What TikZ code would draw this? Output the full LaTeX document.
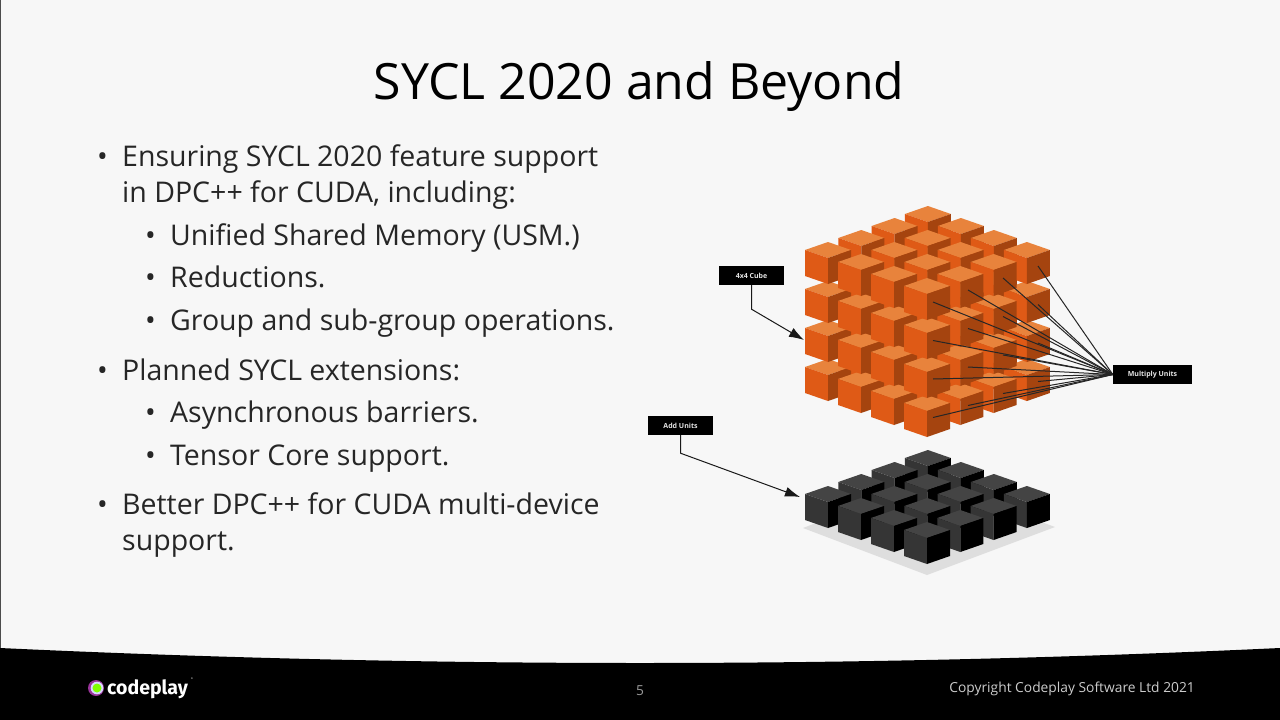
\documentclass[tikz,border=0pt]{standalone}
\usepackage{fontspec}
\setmainfont{Open Sans}
\newfontfamily\logofont{Fira Sans}
\usetikzlibrary{arrows.meta}
\definecolor{slidebg}{HTML}{F7F7F7}
\definecolor{orangetop}{HTML}{E8833C}
\definecolor{orangeleft}{HTML}{DF5A16}
\definecolor{orangeright}{HTML}{A5440F}
\definecolor{darktop}{HTML}{444444}
\definecolor{darkleft}{HTML}{353535}
\definecolor{darkright}{HTML}{000000}
\newcommand{\cubeblock}[5]{%
	\fill[#3] (#1,#2) -- ({#1+23},{#2+8}) -- (#1,{#2+16}) -- ({#1-23},{#2+8}) -- cycle;
	\fill[#4] ({#1-23},{#2+8}) -- (#1,{#2+16}) -- (#1,{#2+42}) -- ({#1-23},{#2+34}) -- cycle;
	\fill[#5] ({#1+23},{#2+8}) -- (#1,{#2+16}) -- (#1,{#2+42}) -- ({#1+23},{#2+34}) -- cycle;
}
\tikzset{
	titletext/.style={anchor=base,inner sep=0pt,text=black,font=\fontsize{50}{50}\selectfont},
	bodytext/.style={anchor=base west,inner sep=0pt,text=black!85,font=\fontsize{28.5}{28.5}\selectfont},
	unitlabel/.style={fill=black,text=white!90!black,inner sep=0pt,minimum height=19pt,font=\bfseries\fontsize{7}{7}\selectfont},
	footertext/.style={inner sep=0pt,text=black!20,font=\fontsize{13.8}{13.8}\selectfont},
	callout/.style={draw=black!90,line width=1pt,-{Latex[length=15pt,width=10pt]}},
	spoke/.style={draw=black!85,line width=1pt}
}
\begin{document}
\begin{tikzpicture}[x=1pt,y=-1pt]
	\useasboundingbox (0,0) rectangle (1280,720);
	\fill[slidebg] (0,0) rectangle (1280,720);
	\fill[black!70] (0,0) rectangle (1,650);
	\fill[black] (0,648) .. controls (427,668) and (853,668) .. (1280,648) -- (1280,720) -- (0,720) -- cycle;
	% title and bullets
	\node[titletext] (title) at (639,99) {SYCL 2020 and Beyond};
	\foreach \name/\x/\y/\txt in {
		a/122/166/Ensuring SYCL 2020 feature support,
		b/122/202/{in DPC++ for CUDA, including:},
		c/170/245/Unified Shared Memory (USM.),
		d/170/287/Reductions.,
		e/170/330/Group and sub-group operations.,
		f/122/380/Planned SYCL extensions:,
		g/170/422/Asynchronous barriers.,
		h/170/465/Tensor Core support.,
		i/122/514/Better DPC++ for CUDA multi-device,
		j/122/550/support.}
		\node[bodytext] (line\name) at (\x,\y) {\txt};
	\foreach \name/\x/\y in {a/97/166,c/145/245,d/145/287,e/145/330,f/97/380,g/145/422,h/145/465,i/97/514}
		\node[bodytext] (dot\name) at (\x,\y) {•};
	% shadow under the add units
	\fill[black!13] (803,528) -- (927,575) -- (1055,527) -- (927,480) -- cycle;
	% add units
	\foreach \a in {3,2,1,0}
		\foreach \b in {3,2,1,0}{
			\pgfmathsetmacro{\cx}{927-33*\a+33.3*\b}
			\pgfmathsetmacro{\cy}{522-12*(\a+\b)}
			\cubeblock{\cx}{\cy}{darktop}{darkleft}{darkright}
		}
	% multiply units, bottom layer first
	\foreach \j in {3,2,1,0}
		\foreach \a in {3,2,1,0}
			\foreach \b in {3,2,1,0}{
				\pgfmathsetmacro{\cx}{927-33*\a+33.3*\b}
				\pgfmathsetmacro{\cy}{278+39*\j-12*(\a+\b)}
				\cubeblock{\cx}{\cy}{orangetop}{orangeleft}{orangeright}
			}
	% labels
	\node[unitlabel,minimum width=65pt] (cubelabel) at (751.5,275.5) {4x4 Cube};
	\node[unitlabel,minimum width=65pt] (addlabel) at (680.5,425.5) {Add Units};
	\node[unitlabel,minimum width=79pt] (multlabel) at (1152.5,374.5) {Multiply Units};
	\coordinate (cubetip) at (804,340);
	\coordinate (addtip) at (800,497);
	\draw[callout] (cubelabel.south) -- ++(0,24) -- (cubetip);
	\draw[callout] (addlabel.south) -- ++(0,18) -- (addtip);
	% one spoke per right face
	\foreach \i in {0,1,2,3}
		\foreach \j in {0,1,2,3}{
			\coordinate (face\i\j) at ({933+35*\i},{302-12*\i+38.5*\j});
			\draw[spoke] (multlabel.west) -- (face\i\j);
		}
	% footer
	\fill[violet!80] (96,688) circle (8);
	\fill[white!85!blue] (97,688) circle (6.3);
	\fill[green!50!yellow] (97,688) circle (4.5);
	\node[inner sep=0pt,anchor=base west,text=white,font=\logofont\bfseries\fontsize{19.5}{19.5}\selectfont] (logo) at (107,694) {codeplay};
	\node[inner sep=0pt,text=white,font=\fontsize{5}{5}\selectfont] (logomark) at (192,680) {°};
	\node[footertext,text=black!40] (pagenum) at (640,691) {5};
	\node[footertext,anchor=east] (copyright) at (1195,689) {Copyright Codeplay Software Ltd 2021};
\end{tikzpicture}
\end{document}
